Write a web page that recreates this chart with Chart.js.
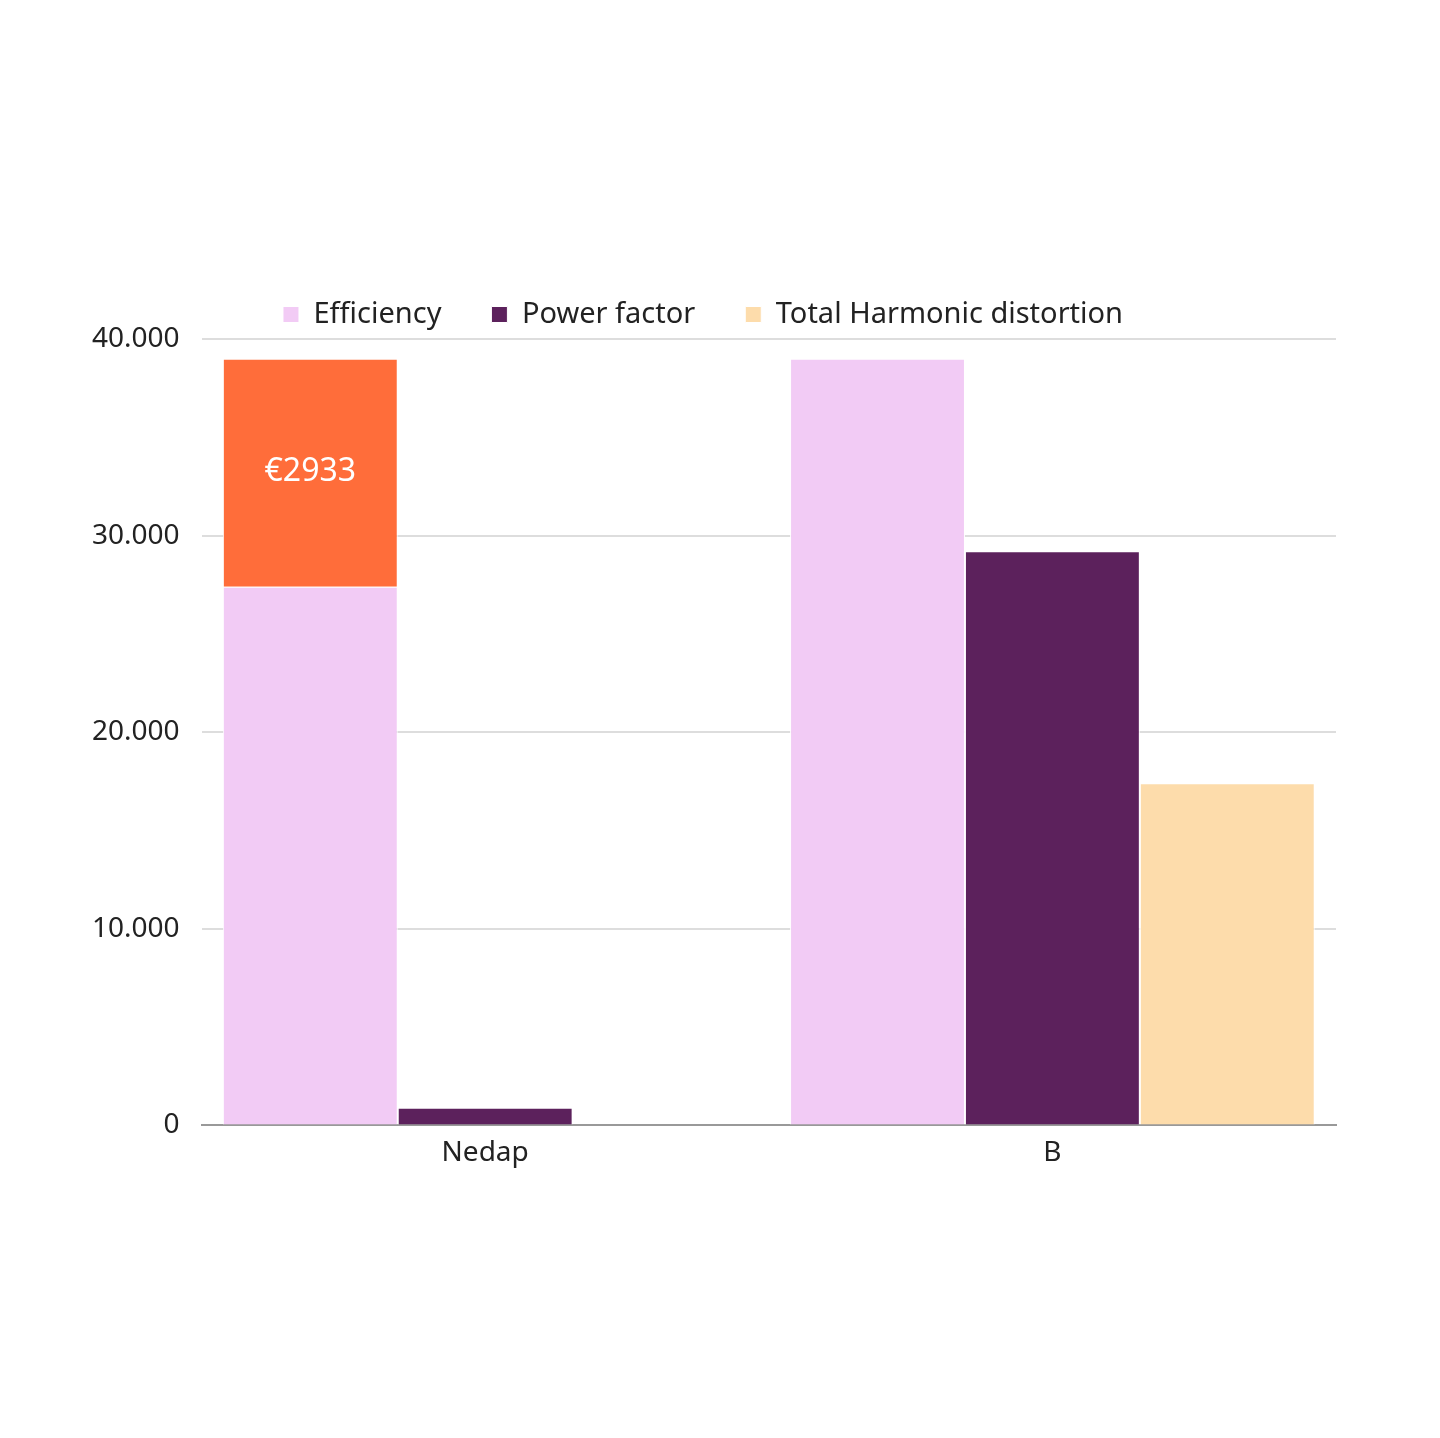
<!DOCTYPE html>
<html>
<head>
<meta charset="utf-8">
<script src="https://cdn.jsdelivr.net/npm/chart.js@4"></script>
<style>
  html, body { margin: 0; background: #fff; }
  #wrap { width: 1440px; height: 1438px; position: relative; }
</style>
</head>
<body>
<div id="wrap"><canvas id="chart"></canvas></div>
<script>
// data
var categories = ["Nedap", "B"];
var efficiency = [27400, 39000];
var extraCost = [11600, 0];          // orange segment stacked on efficiency
var extraCostLabels = ["€2933", ""];
var powerFactor = [900, 29200];
var thd = [0, 17400];
var yTicks = [0, 10000, 20000, 30000, 40000];

var font = "'Noto Sans', sans-serif";

// draws the text label inside the orange segment
var segmentLabel = {
  id: "segmentLabel",
  afterDatasetsDraw: function (chart) {
    var meta = chart.getDatasetMeta(1);
    var ctx = chart.ctx;
    ctx.save();
    ctx.fillStyle = "#fff";
    ctx.font = "32px " + font;
    ctx.textAlign = "center";
    ctx.textBaseline = "middle";
    meta.data.forEach(function (bar, i) {
      if (!extraCostLabels[i]) return;
      var y = Math.min(bar.y, bar.base) + 113;
      ctx.fillText(extraCostLabels[i], bar.x, y);
    });
    ctx.restore();
  }
};

new Chart(document.getElementById("chart"), {
  type: "bar",
  data: {
    labels: categories,
    datasets: [
      { label: "Efficiency", data: efficiency, backgroundColor: "#f2cbf5", stack: "a" },
      { label: "extra", data: extraCost, backgroundColor: "#ff6d3a", stack: "a" },
      { label: "Power factor", data: powerFactor, backgroundColor: "#5c215c", stack: "b" },
      { label: "Total Harmonic distortion", data: thd, backgroundColor: "#fddcab", stack: "c" }
    ].map(function (d) {
      d.borderColor = "#fff";
      d.borderWidth = 1;
      d.categoryPercentage = 0.925;
      d.barPercentage = 1;
      return d;
    })
  },
  options: {
    responsive: true,
    maintainAspectRatio: false,
    animation: false,
    layout: { padding: { top: 250, bottom: 265, left: 70, right: 104 } },
    plugins: {
      tooltip: { enabled: false },
      legend: {
        labels: {
          filter: function (item) { return item.text !== "extra"; },
          usePointStyle: true,
          pointStyle: "rect",
          boxWidth: 16,
          boxHeight: 16,
          padding: 50,
          color: "#222",
          font: { family: font, size: 29 }
        }
      }
    },
    scales: {
      x: {
        stacked: true,
        grid: { display: false },
        border: { color: "#999", width: 2 },
        ticks: { color: "#222", font: { family: font, size: 28 } }
      },
      y: {
        stacked: true,
        min: 0,
        max: 40000,
        afterBuildTicks: function (axis) {
          axis.ticks = yTicks.map(function (v) { return { value: v }; });
        },
        grid: { color: "#ddd", lineWidth: 2, drawTicks: false },
        border: { display: false },
        ticks: {
          color: "#222",
          padding: 22,
          font: { family: font, size: 28 },
          callback: function (v) { return v.toLocaleString("de-DE"); }
        }
      }
    }
  },
  plugins: [segmentLabel]
});
</script>
</body>
</html>
